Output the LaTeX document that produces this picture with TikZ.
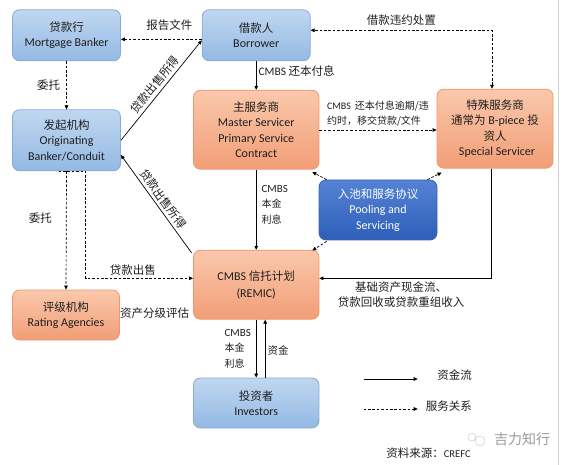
\documentclass[tikz,border=0pt]{standalone}
\usepackage{fontspec}
\setmainfont{Carlito}
\newfontfamily\cjk{Noto Sans CJK SC}
\usetikzlibrary{arrows.meta}

\definecolor{blueline}{RGB}{135,170,215}
\definecolor{bluetop}{RGB}{192,215,240}
\definecolor{bluebot}{RGB}{148,185,228}
\definecolor{orline}{RGB}{238,150,110}
\definecolor{ortop}{RGB}{250,200,172}
\definecolor{orbot}{RGB}{242,158,118}
\definecolor{pooltop}{RGB}{85,130,212}
\definecolor{poolbot}{RGB}{45,95,185}
\definecolor{poolline}{RGB}{60,100,180}
\definecolor{txt}{RGB}{30,30,30}

\newcommand{\zht}[1]{{\cjk\fontsize{11.5}{15.5}\selectfont #1}}
\newcommand{\zh}[1]{{\cjk\fontsize{10}{15}\selectfont #1}}

\tikzset{
	box/.style={rounded corners=7pt, line width=0.8pt, align=center, inner sep=1pt,
		font=\fontsize{12}{15.5}\selectfont, text=txt},
	bluebox/.style={box, draw=blueline, top color=bluetop, bottom color=bluebot},
	orangebox/.style={box, draw=orline, top color=ortop, bottom color=orbot},
	poolbox/.style={box, draw=poolline, top color=pooltop, bottom color=poolbot, text=white},
	money/.style={line width=0.7pt, -{Triangle[length=4pt,width=3.6pt]}},
	service/.style={line width=0.7pt, dash pattern=on 2.6pt off 1.8pt, -{Triangle[length=4pt,width=3.6pt]}},
	lbl/.style={font=\cjk\fontsize{11.5}{15}\selectfont, text=txt, inner sep=2pt},
	smalllbl/.style={font=\fontsize{11}{15.5}\selectfont, text=txt, inner sep=2pt, align=left}
}

\begin{document}
\begin{tikzpicture}[x=1pt, y=-1pt]
	\useasboundingbox (0,0) rectangle (565,465);
	\draw[gray!35, line width=0.4pt] (558,0) -- (558,465);	%frame edge

	%boxes
	\node[bluebox, minimum width=108pt, minimum height=51pt] (mortgage) at (66.5,35.3)
		{\zht{贷款行}\\Mortgage Banker};
	\node[bluebox, minimum width=108pt, minimum height=51pt] (borrower) at (256.2,35.3)
		{\zht{借款人}\\Borrower};
	\node[orangebox, minimum width=125.5pt, minimum height=79pt] (master) at (256.2,129.7)
		{\zht{主服务商}\\Master Servicer\\Primary Service\\Contract};
	\node[orangebox, minimum width=116pt, minimum height=79pt] (special) at (495,128.7)
		{\zht{特殊服务商}\\\zht{通常为} B-piece \zht{投}\\\zht{资人}\\\hspace{4pt}Special Servicer};
	\node[bluebox, minimum width=108pt, minimum height=61pt] (originating) at (66.5,140.3)
		{\zht{发起机构}\\Originating\\Banker/Conduit};
	\node[poolbox, minimum width=118pt, minimum height=60pt] (pooling) at (378,210)
		{\zht{入池和服务协议}\\Pooling and\\Servicing};
	\node[orangebox, minimum width=125.5pt, minimum height=69pt] (trust) at (256.2,284.7)
		{CMBS \zht{信托计划}\\[1.5pt](REMIC)};
	\node[orangebox, minimum width=107pt, minimum height=50pt] (rating) at (66,315)
		{\zht{评级机构}\\Rating Agencies};
	\node[bluebox, minimum width=125.5pt, minimum height=50pt] (investors) at (256.2,403)
		{\zht{投资者}\\Investors};

	%service relations
	\draw[service] ([yshift=-4pt]borrower.west) -- node[lbl, above, pos=0.4, yshift=6pt] {报告文件} ([yshift=-4pt]mortgage.east);
	\draw[service] (mortgage.south) -- node[lbl, left=4pt] {委托} (originating.north);
	\draw[service] (originating.south) -- node[lbl, pos=0.4, left=12pt] {委托} (rating.north);
	\draw[service] ([xshift=-8pt]originating.south) -- ([xshift=19pt]originating.south)
		|- node[lbl, pos=0.72, above] {贷款出售} ([yshift=6.4pt]trust.west);
	\draw[service] (master.east |- 0,130) -- node[smalllbl, above, yshift=1pt, font=\fontsize{10}{15.5}\selectfont]
		{CMBS\hspace{4pt}\zh{还本付息逾期/违}\\\zh{约时，移交贷款/文件}} (special.west |- 0,130);
	\draw[service, {Triangle[length=4pt,width=3.6pt]}-{Triangle[length=4pt,width=3.6pt]}]
		([xshift=-3pt]special.north) |- node[lbl, pos=0.75, above, yshift=2pt] {借款违约处置} ([yshift=5pt]borrower.east);
	\draw[service] ([xshift=8pt]pooling.north west) -- ([xshift=-7pt,yshift=-2.5pt]master.south east);
	\draw[service] ([xshift=-10pt]pooling.north east) -- ([xshift=5pt,yshift=-4pt]special.south west);
	\draw[service] ([xshift=8pt,yshift=-1pt]pooling.south west) -- ([xshift=-7pt,yshift=-0.7pt]trust.north east);

	%money flows
	\draw[money] (originating.east) -- node[lbl, sloped, above, pos=0.5, yshift=1pt] {贷款出售所得} ([yshift=-5pt]borrower.west);
	\draw[money, {Triangle[length=4pt,width=3.6pt]}-] ([yshift=-14.7pt]originating.east)
		-- node[lbl, sloped, above, yshift=1pt] {贷款出售所得} ([xshift=-1.5pt,yshift=-3pt]trust.north west);
	\draw[money] (borrower.south) -- node[lbl, right, yshift=4pt] {\rmfamily CMBS {\cjk 还本付息}} (master.north);
	\draw[money] (master.south) -- node[smalllbl, right=3pt, yshift=5pt]
		{CMBS\\\zh{本金}\\\zh{利息}} (trust.north);
	\draw[money] ([xshift=-4pt]special.south) |- node[lbl, pos=0.75, below, align=center, xshift=-4pt, yshift=-1pt]
		{基础资产现金流、\\贷款回收或贷款重组收入} ([yshift=6.4pt]trust.east);
	\draw[money] (trust.south) -- node[smalllbl, left=3pt]
		{CMBS\\\zh{本金}\\\zh{利息}} (investors.north);
	\draw[money] ([xshift=9pt]investors.north) -- node[lbl, right, yshift=-2pt, font=\cjk\fontsize{10.5}{14}\selectfont] {资金} ([xshift=9pt]trust.south);

	%labels
	\node[lbl] (grading) at (154.5,313) {资产分级评估};

	%legend
	\coordinate (flowa) at (363.5,379);
	\coordinate (flowb) at (417.7,379);
	\coordinate (rela) at (363.5,409);
	\coordinate (relb) at (417.7,409);
	\draw[money] (flowa) -- (flowb);
	\draw[service] (rela) -- (relb);
	\node[lbl, anchor=east] (flowtext) at (474,375) {资金流};
	\node[lbl, anchor=east] (reltext) at (474,406) {服务关系};

	%source
	\draw[gray!40, line width=0.5pt] (472,437) circle (4pt) (480,441) circle (5pt);
	\node[lbl, font=\cjk\fontsize{14}{16}\selectfont, text=gray!80] (mark) at (522,439) {吉力知行};
	\node[lbl] (source) at (428.5,453) {资料来源：\rmfamily\fontsize{10.5}{12}\selectfont CREFC};
\end{tikzpicture}
\end{document}
